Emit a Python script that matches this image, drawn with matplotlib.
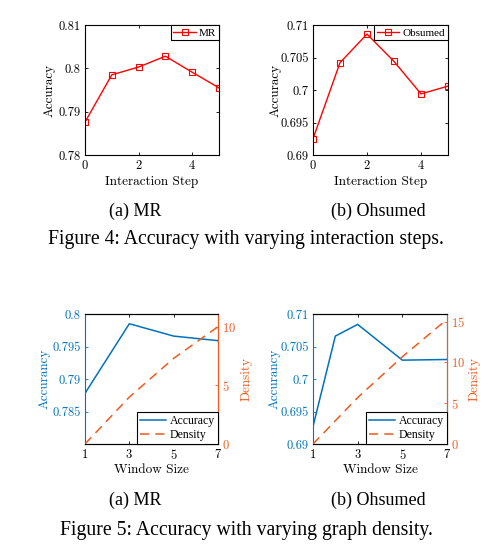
import matplotlib
matplotlib.use('Agg')
import matplotlib.pyplot as plt

# interaction step plots (figure 4)
steps = [0, 1, 2, 3, 4, 5]
mr_step_acc = [0.7876, 0.7985, 0.8003, 0.8028, 0.7991, 0.7955]
oh_step_acc = [0.6925, 0.7042, 0.7086, 0.7044, 0.6994, 0.7006]

# window size plots (figure 5)
mr_win = [1, 3, 5, 7]
mr_win_acc = [0.7878, 0.7985, 0.7966, 0.7959]
mr_win_dens = [0.0, 4.0, 7.3, 10.0]

oh_win = [1, 2, 3, 5, 7]
oh_win_acc = [0.6927, 0.7066, 0.7084, 0.7029, 0.7030]
oh_win_dens_x = [1, 3, 5, 7]
oh_win_dens = [0.0, 5.7, 10.7, 15.3]

BLUE = '#0072BD'
ORANGE = '#F05A1E'
CM = 'cmr10'
TIMES = 'Liberation Serif'

plt.rcParams['axes.formatter.use_mathtext'] = True
plt.rcParams['mathtext.fontset'] = 'cm'

W, H = 493, 557
fig = plt.figure(figsize=(W / 100, H / 100), dpi=100)


def box(l, t, r, b):
    return [l / W, 1 - b / H, (r - l) / W, (b - t) / H]


def style_ax(ax):
    ax.tick_params(direction='in', length=2.5, width=0.6, labelsize=9, pad=3)
    for lab in ax.get_xticklabels() + ax.get_yticklabels():
        lab.set_fontfamily(CM)
    for s in ax.spines.values():
        s.set_linewidth(0.8)


def make_legend(ax, *args, size=8, spacing=0.15, **kw):
    leg = ax.legend(*args, borderaxespad=0, fancybox=False, framealpha=1,
                    handletextpad=0.3, borderpad=0.25, labelspacing=spacing,
                    prop={'family': TIMES, 'size': size}, **kw)
    leg.get_frame().set_edgecolor('black')
    leg.get_frame().set_linewidth(0.8)
    leg.set_zorder(10)
    return leg


def step_plot(rect, y, ylim, yticks, yticklabels, name):
    ax = fig.add_axes(rect)
    ax.plot(steps, y, color='red', lw=1, marker='s', ms=4, mfc='none', mew=0.8, label=name)
    ax.set_xlim(0, 5)
    ax.set_ylim(*ylim)
    ax.set_xticks([0, 2, 4])
    ax.set_yticks(yticks)
    ax.set_yticklabels(yticklabels)
    ax.tick_params(top=True, right=True)
    style_ax(ax)
    ax.set_xlabel('Interaction Step', fontfamily=CM, fontsize=9.5)
    ax.set_ylabel('Accuracy', fontfamily=CM, fontsize=9.5)
    make_legend(ax, loc='upper right', handlelength=2.0)
    return ax


ax1 = step_plot(box(85, 25, 219, 155), mr_step_acc, (0.78, 0.81),
                [0.78, 0.79, 0.8, 0.81], ['0.78', '0.79', '0.8', '0.81'], 'MR')
ax1.yaxis.set_label_coords(-0.22, 0.5)
ax1.xaxis.set_label_coords(0.5, -0.16)
ax2 = step_plot(box(313, 25, 448, 155), oh_step_acc, (0.69, 0.71),
                [0.69, 0.695, 0.7, 0.705, 0.71], ['0.69', '0.695', '0.7', '0.705', '0.71'], 'Obsumed')
ax2.yaxis.set_label_coords(-0.235, 0.5)
ax2.xaxis.set_label_coords(0.5, -0.16)


def win_plot(rect, x, acc, dx, dens, ylim, yticks, yticklabels, dlim, dticks):
    ax = fig.add_axes(rect)
    l1, = ax.plot(x, acc, color=BLUE, lw=1.1, label='Accuracy')
    ax.set_xlim(1, 7)
    ax.set_ylim(*ylim)
    ax.set_xticks([1, 3, 5, 7])
    ax.set_yticks(yticks)
    ax.set_yticklabels(yticklabels)
    ax.tick_params(top=True)
    style_ax(ax)
    ax.tick_params(axis='y', colors=BLUE)
    ax.spines['left'].set_color(BLUE)
    ax.set_xlabel('Window Size', fontfamily=CM, fontsize=9.5)
    ax.set_ylabel('Accurancy', fontfamily=CM, fontsize=9.5, color=BLUE)
    ax2 = ax.twinx()
    l2, = ax2.plot(dx, dens, color=ORANGE, lw=1.1, ls=(0, (6, 4)), label='Density')
    ax2.set_ylim(*dlim)
    ax2.set_yticks(dticks)
    style_ax(ax2)
    ax2.tick_params(axis='y', colors=ORANGE)
    ax2.spines['right'].set_color(ORANGE)
    ax2.spines['left'].set_visible(False)
    ax2.set_ylabel('Density', fontfamily=CM, fontsize=9.5, color=ORANGE)
    make_legend(ax2, [l1, l2], ['Accuracy', 'Density'], loc='lower right',
                handlelength=2.2, size=8.5, spacing=0.2)
    ax.xaxis.set_label_coords(0.5, -0.155)
    return ax, ax2


b1, b1r = win_plot(box(85, 314, 218, 444), mr_win, mr_win_acc, mr_win, mr_win_dens,
                   (0.78, 0.8), [0.785, 0.79, 0.795, 0.8], ['0.785', '0.79', '0.795', '0.8'],
                   (0, 11.08), [0, 5, 10])
b1.yaxis.set_label_coords(-0.26, 0.5)
b1r.yaxis.set_label_coords(1.17, 0.5)
b2, b2r = win_plot(box(313, 314, 447, 444), oh_win, oh_win_acc, oh_win_dens_x, oh_win_dens,
                   (0.69, 0.71), [0.69, 0.695, 0.7, 0.705, 0.71],
                   ['0.69', '0.695', '0.7', '0.705', '0.71'], (0, 15.95), [0, 5, 10, 15])
b2.yaxis.set_label_coords(-0.245, 0.5)
b2r.yaxis.set_label_coords(1.16, 0.5)

# captions
fig.text(135 / W, 1 - 211 / H, '(a) MR', ha='center', va='center', fontfamily=TIMES, fontsize=13)
fig.text(378 / W, 1 - 211 / H, '(b) Ohsumed', ha='center', va='center', fontfamily=TIMES, fontsize=13)
fig.text(246 / W, 1 - 239 / H, 'Figure 4: Accuracy with varying interaction steps.',
         ha='center', va='center', fontfamily=TIMES, fontsize=14.2)
fig.text(135 / W, 1 - 500 / H, '(a) MR', ha='center', va='center', fontfamily=TIMES, fontsize=13)
fig.text(378 / W, 1 - 500 / H, '(b) Ohsumed', ha='center', va='center', fontfamily=TIMES, fontsize=13)
fig.text(246 / W, 1 - 531 / H, 'Figure 5: Accuracy with varying graph density.',
         ha='center', va='center', fontfamily=TIMES, fontsize=14.2)

fig.savefig('out.png', dpi=100)
